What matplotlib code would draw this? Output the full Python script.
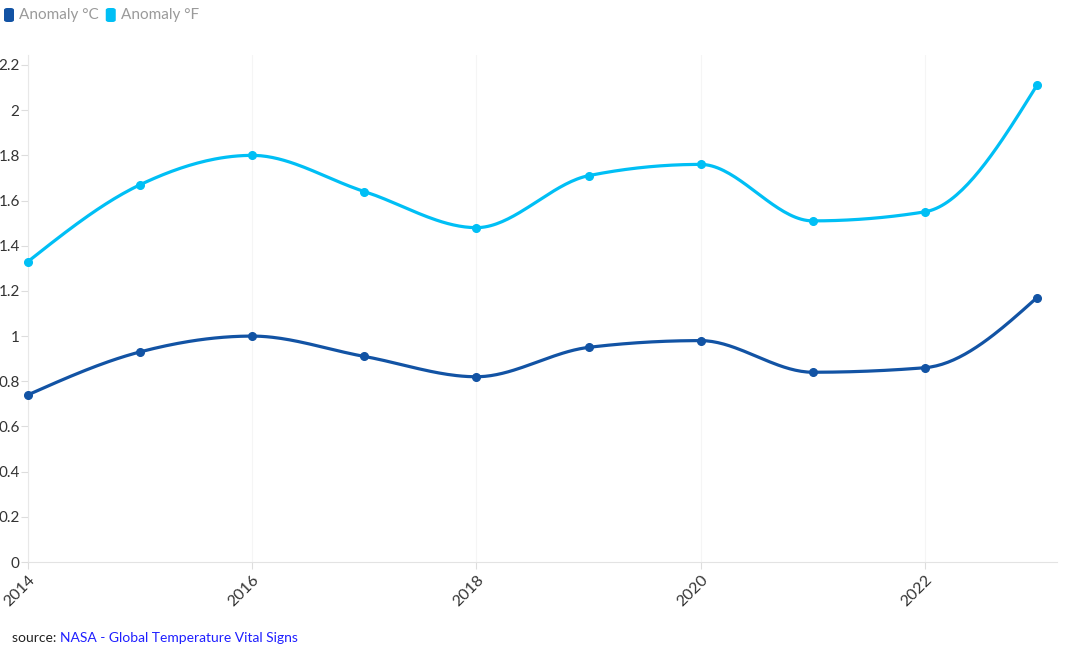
import numpy as np
import matplotlib
matplotlib.use("Agg")
import matplotlib.pyplot as plt
from matplotlib.patches import FancyBboxPatch

plt.rcParams['font.family'] = ['Lato', 'DejaVu Sans']

years = [2014, 2015, 2016, 2017, 2018, 2019, 2020, 2021, 2022, 2023]
anomaly_c = [0.74, 0.93, 1.00, 0.91, 0.82, 0.95, 0.98, 0.84, 0.86, 1.17]
anomaly_f = [1.33, 1.67, 1.80, 1.64, 1.48, 1.71, 1.76, 1.51, 1.55, 2.11]
series_names = ["Anomaly °C", "Anomaly °F"]
colors = ["#1253a4", "#00bff5"]
y_ticks = [0, 0.2, 0.4, 0.6, 0.8, 1.0, 1.2, 1.4, 1.6, 1.8, 2.0, 2.2]
x_ticks = [2014, 2016, 2018, 2020, 2022]


def monotone_x(xs, ys, n=40):
    """d3 curveMonotoneX rendering of a polyline."""
    xs = np.asarray(xs, float)
    ys = np.asarray(ys, float)
    m = len(xs)
    h = np.diff(xs)
    s = np.diff(ys) / h
    t = np.zeros(m)
    for i in range(1, m - 1):
        h0, h1 = h[i - 1], h[i]
        s0, s1 = s[i - 1], s[i]
        p = (s0 * h1 + s1 * h0) / (h0 + h1)
        t[i] = (np.sign(s0) + np.sign(s1)) * min(abs(s0), abs(s1), 0.5 * abs(p))
    t[0] = (3 * s[0] - t[1]) / 2
    t[-1] = (3 * s[-1] - t[-2]) / 2
    px, py = [], []
    u = np.linspace(0, 1, n)
    for i in range(m - 1):
        dx = h[i]
        p0 = (xs[i], ys[i])
        p1 = (xs[i] + dx / 3, ys[i] + dx * t[i] / 3)
        p2 = (xs[i + 1] - dx / 3, ys[i + 1] - dx * t[i + 1] / 3)
        p3 = (xs[i + 1], ys[i + 1])
        bx = ((1 - u) ** 3) * p0[0] + 3 * ((1 - u) ** 2) * u * p1[0] + 3 * (1 - u) * u ** 2 * p2[0] + u ** 3 * p3[0]
        by = ((1 - u) ** 3) * p0[1] + 3 * ((1 - u) ** 2) * u * p1[1] + 3 * (1 - u) * u ** 2 * p2[1] + u ** 3 * p3[1]
        if i > 0:
            bx, by = bx[1:], by[1:]
        px.extend(bx)
        py.extend(by)
    return np.array(px), np.array(py)


fig = plt.figure(figsize=(10.8, 6.48), dpi=100)
ax = fig.add_axes([28 / 1080, 86 / 648, (1057 - 28) / 1080, (562 - 55) / 648])

for vals, col in [(anomaly_f, colors[1]), (anomaly_c, colors[0])]:
    cx, cy = monotone_x(years, vals)
    ax.plot(cx, cy, color=col, lw=2.3, solid_capstyle='round', zorder=3, clip_on=False)
    ax.plot(years, vals, 'o', color=col, ms=5.5, zorder=4, clip_on=False)

ax.set_xlim(2014, 2014 + (1057 - 28) / 112.1)
ax.set_ylim(0, 2.2 + 10 / 226)
ax.set_yticks(y_ticks)
ax.set_yticklabels([f"{v:g}" for v in y_ticks])
ax.set_xticks(x_ticks)
ax.set_xticklabels([str(v) for v in x_ticks], rotation=45, ha='right', va='top',
                   rotation_mode='anchor')

for sp in ['top', 'right']:
    ax.spines[sp].set_visible(False)
ax.spines['left'].set_color('#e8e8e8')
ax.spines['bottom'].set_color('#e3e3e3')
ax.spines['left'].set_linewidth(0.8)
ax.spines['bottom'].set_linewidth(0.8)
ax.tick_params(axis='y', length=5, color='#dddddd', labelsize=11, labelcolor='#333333', pad=1)
ax.tick_params(axis='x', length=5, color='#dddddd', labelsize=11.5, labelcolor='#333333', pad=3)
ax.grid(axis='x', color='#f5f5f5', lw=0.8)
ax.set_axisbelow(True)

# legend
lx = 4
for name, col in zip(series_names, colors):
    fig.patches.append(FancyBboxPatch((lx / 1080, 1 - 22 / 648), 10 / 1080, 14 / 648,
                                      boxstyle="round,pad=0,rounding_size=0.003",
                                      transform=fig.transFigure, facecolor=col,
                                      edgecolor='none'))
    t = fig.text((lx + 15) / 1080, 1 - 15 / 648, name, fontsize=11, color='#9a9a9a',
                 va='center', ha='left')
    fig.canvas.draw()
    bb = t.get_window_extent()
    lx = bb.x1 + 7

# source
t1 = fig.text(12 / 1080, 1 - 638 / 648, "source: ", fontsize=10, color='#222222',
              va='center', ha='left')
fig.canvas.draw()
bb = t1.get_window_extent()
fig.text(bb.x1 / 1080, 1 - 638 / 648, "NASA - Global Temperature Vital Signs",
         fontsize=10, color='#1f1fff', va='center', ha='left')

fig.savefig("out.png", dpi=100, facecolor='white')
